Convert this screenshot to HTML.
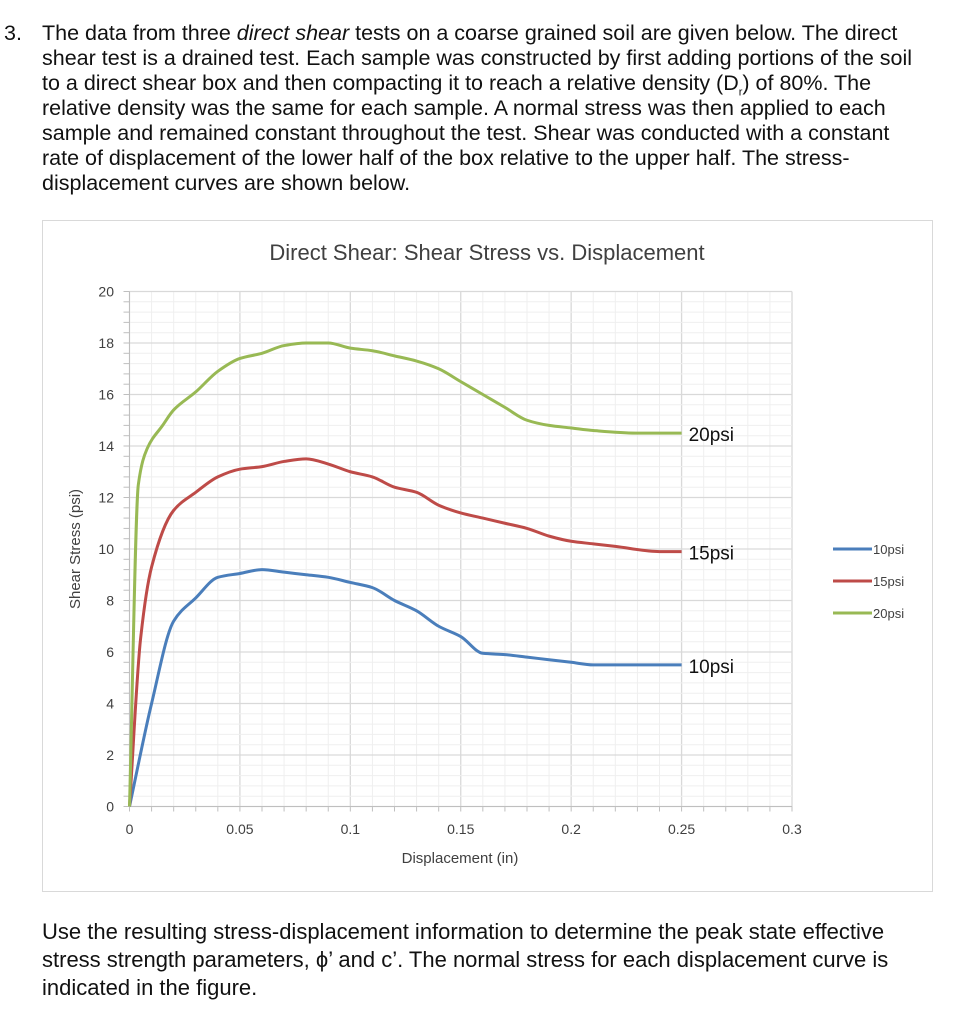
<!DOCTYPE html>
<html><head><meta charset="utf-8"><style>
body{margin:0;background:#fff;width:968px;height:1024px;overflow:hidden;font-family:"Liberation Sans",Arial,sans-serif;}
.p{position:absolute;left:0;color:#111;}
sub{line-height:0;font-size:11px;}
</style></head><body>
<div class="p" style="top:21px;left:0;width:940px;line-height:25px;font-size:21.5px;">
<span style="position:absolute;left:4px;">3.</span>
<div style="margin-left:42px;width:880px;">The data from three <i>direct shear</i> tests on a coarse grained soil are given below. The direct shear test is a drained test. Each sample was constructed by first adding portions of the soil to a direct shear box and then compacting it to reach a relative density (D<sub>r</sub>) of 80%. The relative density was the same for each sample. A normal stress was then applied to each sample and remained constant throughout the test. Shear was conducted with a constant rate of displacement of the lower half of the box relative to the upper half. The stress-displacement curves are shown below.</div></div>
<div class="p" style="top:918px;left:42px;width:850px;line-height:28px;font-size:22px;">Use the resulting stress-displacement information to determine the peak state effective stress strength parameters, ϕ’ and c’. The normal stress for each displacement curve is indicated in the figure.</div>
<svg id="c" style="position:absolute;left:0;top:0" width="968" height="1024"></svg>
<script>
const xTicks=[0,0.05,0.1,0.15,0.2,0.25,0.3];
const yTicks=[0,2,4,6,8,10,12,14,16,18,20];
const seriesNames=["10psi","15psi","20psi"];
const colors=["#4a7ebb","#be4b48","#98b954"];
const xBlue=[0,0.01,0.02,0.03,0.04,0.05,0.06,0.07,0.08,0.09,0.1,0.11,0.12,0.13,0.14,0.15,0.16,0.17,0.18,0.19,0.2,0.21,0.22,0.25];
const yBlue=[0,4,7.2,8.1,8.9,9.05,9.2,9.1,9.0,8.9,8.7,8.5,8.0,7.6,7.0,6.6,5.95,5.9,5.8,5.7,5.6,5.5,5.5,5.5];
const xRed=[0,0.005,0.01,0.02,0.03,0.04,0.05,0.06,0.07,0.08,0.09,0.1,0.11,0.12,0.13,0.14,0.15,0.16,0.17,0.18,0.19,0.2,0.21,0.22,0.24,0.25];
const yRed=[0,6.5,9.3,11.5,12.2,12.8,13.1,13.2,13.4,13.5,13.3,13.0,12.8,12.4,12.2,11.7,11.4,11.2,11.0,10.8,10.5,10.3,10.2,10.1,9.9,9.9];
const xGreen=[0,0.004,0.008,0.015,0.02,0.03,0.04,0.05,0.06,0.07,0.08,0.09,0.1,0.11,0.12,0.13,0.14,0.15,0.16,0.17,0.18,0.19,0.2,0.21,0.23,0.25];
const yGreen=[0,12.5,13.9,14.8,15.4,16.1,16.9,17.4,17.6,17.9,18.0,18.0,17.8,17.7,17.5,17.3,17.0,16.5,16.0,15.5,15.0,14.8,14.7,14.6,14.5,14.5];
const NS="http://www.w3.org/2000/svg",svg=document.getElementById('c');
const X0=129.5,X1=792,Y0=806.5,Y1=291.5;
const sx=v=>X0+(X1-X0)*v/0.3, sy=v=>Y0-(Y0-Y1)*v/20;
function el(t,a,p){const e=document.createElementNS(NS,t);for(const k in a)e.setAttribute(k,a[k]);(p||svg).appendChild(e);return e;}
const fr=el('rect',{x:42.5,y:220.5,width:890,height:671,fill:'#fff',stroke:'#d9d9d9'});


const tt=el('text',{x:487,y:260,'text-anchor':'middle','font-size':22,fill:'#404040'});tt.textContent='Direct Shear: Shear Stress vs. Displacement';


for(let i=0;i<=30;i++){const x=sx(i*0.01),maj=i%5==0;el('line',{x1:x,x2:x,y1:Y1,y2:Y0,stroke:maj?'#d9d9d9':'#efefef','stroke-width':maj?1.3:1});el('line',{x1:x,x2:x,y1:Y0,y2:Y0+5,stroke:'#bfbfbf'});}
for(let i=0;i<=50;i++){const y=sy(i*0.4),maj=i%5==0;el('line',{x1:X0,x2:X1,y1:y,y2:y,stroke:maj?'#d9d9d9':'#efefef','stroke-width':maj?1.3:1});el('line',{x1:X0-6,x2:X0,y1:y,y2:y,stroke:'#bfbfbf'});}
el('line',{x1:X0,x2:X0,y1:Y1,y2:Y0,stroke:'#bfbfbf'});el('line',{x1:X0,x2:X1,y1:Y0,y2:Y0,stroke:'#bfbfbf'});
xTicks.forEach(v=>{const t=el('text',{x:sx(v),y:834,'text-anchor':'middle','font-size':14,fill:'#404040'});t.textContent=v;

});
yTicks.forEach(v=>{const t=el('text',{x:114,y:sy(v)+5,'text-anchor':'end','font-size':14,fill:'#404040'});t.textContent=v;

});
const xa=el('text',{x:460,y:863,'text-anchor':'middle','font-size':15,fill:'#404040'});xa.textContent='Displacement (in)';


const ya=el('text',{x:0,y:0,'text-anchor':'middle','font-size':15,fill:'#404040',transform:'translate(80,549) rotate(-90)'});ya.textContent='Shear Stress (psi)';


function path(xs,ys){const n=xs.length,X=xs.map(sx),Y=ys.map(sy),d=[],m=[];
for(let i=0;i<n-1;i++)d.push((Y[i+1]-Y[i])/(X[i+1]-X[i]));
for(let i=0;i<n;i++){if(i==0)m.push(d[0]);else if(i==n-1)m.push(d[n-2]);else if(d[i-1]*d[i]<=0)m.push(0);else{const h0=X[i]-X[i-1],h1=X[i+1]-X[i],w1=2*h1+h0,w2=h1+2*h0;m.push((w1+w2)/(w1/d[i-1]+w2/d[i]));}}
let s='M'+X[0]+','+Y[0];for(let i=0;i<n-1;i++){const h=(X[i+1]-X[i])/3;s+=` C${X[i]+h},${Y[i]+m[i]*h} ${X[i+1]-h},${Y[i+1]-m[i+1]*h} ${X[i+1]},${Y[i+1]}`;}return s;}
const data=[[xBlue,yBlue],[xRed,yRed],[xGreen,yGreen]];
data.forEach((s,i)=>{const l=el('path',{d:path(s[0],s[1]),fill:'none',stroke:colors[i],'stroke-width':3,'stroke-linejoin':'round'});


const n=s[0].length;const lb=el('text',{x:sx(s[0][n-1])+7,y:sy(s[1][n-1])+8,'font-size':19,fill:'#111'});lb.textContent=seriesNames[i];


const ly=549+i*32;el('line',{x1:833,x2:872,y1:ly,y2:ly,stroke:colors[i],'stroke-width':3});
const lt=el('text',{x:873,y:ly+5,'font-size':13,fill:'#404040'});lt.textContent=seriesNames[i];

});
</script>
</body></html>
